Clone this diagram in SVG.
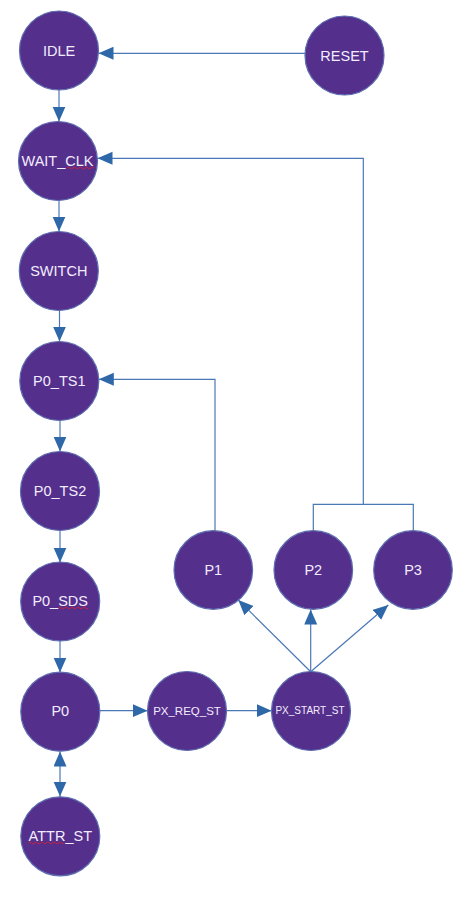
<svg xmlns="http://www.w3.org/2000/svg" width="474" height="914" viewBox="0 0 474 914">
<style>
.node circle{fill:#54308c;stroke:#5d6db0;stroke-width:1.2}
.node text{fill:#f3ecff;font-family:"Liberation Sans",Arial,sans-serif;font-size:14.5px;text-anchor:middle;dominant-baseline:central}
.node text.s{font-size:11.5px}
.node text.xs{font-size:10px}
.edge{fill:none;stroke:#4a78b4;stroke-width:1.2}
.squig{fill:none;stroke:#d0203a;stroke-width:0.9}
</style>
<defs>
<marker id="ah" markerUnits="userSpaceOnUse" markerWidth="16" markerHeight="14" refX="15" refY="6.5" orient="auto-start-reverse">
<path d="M0,0 L15,6.5 L0,13 z" fill="#2f68a9"/>
</marker>
</defs>
<rect width="474" height="914" fill="#ffffff"/>
<g id="connectors">
<line class="edge" x1="305" y1="53.3" x2="98.5" y2="53.3" marker-end="url(#ah)"/>
<line class="edge" x1="59" y1="90" x2="59" y2="121.5" marker-end="url(#ah)"/>
<line class="edge" x1="59" y1="200.5" x2="59" y2="231.5" marker-end="url(#ah)"/>
<line class="edge" x1="59.5" y1="310.5" x2="59.5" y2="341.5" marker-end="url(#ah)"/>
<line class="edge" x1="60" y1="420.5" x2="60" y2="451.5" marker-end="url(#ah)"/>
<line class="edge" x1="60" y1="530.5" x2="60" y2="562.5" marker-end="url(#ah)"/>
<line class="edge" x1="60" y1="641" x2="60" y2="672.5" marker-end="url(#ah)"/>
<line class="edge" x1="60" y1="751.5" x2="60" y2="796.5" marker-start="url(#ah)" marker-end="url(#ah)"/>
<polyline class="edge" points="215,530.7 215,379.3 98.8,379.3" marker-end="url(#ah)"/>
<polyline class="edge" points="313.3,530.7 313.3,504.3 413.3,504.3 413.3,530.7"/>
<polyline class="edge" points="363.3,504.3 363.3,158.3 97.5,158.3" marker-end="url(#ah)"/>
<line class="edge" x1="100" y1="710.7" x2="147.6" y2="710.7" marker-end="url(#ah)"/>
<line class="edge" x1="226.7" y1="710.7" x2="271.6" y2="710.7" marker-end="url(#ah)"/>
<line class="edge" x1="310.7" y1="671.7" x2="238.3" y2="600" marker-end="url(#ah)"/>
<line class="edge" x1="310.7" y1="671.7" x2="310.7" y2="609.5" marker-end="url(#ah)"/>
<line class="edge" x1="310.7" y1="671.7" x2="388.3" y2="605" marker-end="url(#ah)"/>
</g>
<g id="IDLE" class="node"><circle cx="59" cy="50.5" r="39.5"/><text x="59" y="50.5">IDLE</text></g>
<g id="RESET" class="node"><circle cx="344.5" cy="55.5" r="39.5"/><text x="344.5" y="55.5">RESET</text></g>
<g id="WAIT_CLK" class="node"><circle cx="58" cy="161" r="39.5"/><text x="57.5" y="161">WAIT_CLK</text></g>
<g id="SWITCH" class="node"><circle cx="58.8" cy="271" r="39.5"/><text x="58.8" y="270.5">SWITCH</text></g>
<g id="P0_TS1" class="node"><circle cx="59.3" cy="381" r="39.5"/><text x="59.3" y="380.5">P0_TS1</text></g>
<g id="P0_TS2" class="node"><circle cx="60" cy="491" r="39.5"/><text x="60" y="490.5">P0_TS2</text></g>
<g id="P0_SDS" class="node"><circle cx="60.2" cy="601.5" r="39.5"/><text x="60.2" y="601">P0_SDS</text></g>
<g id="P0" class="node"><circle cx="60.3" cy="711.7" r="39.5"/><text x="60.3" y="711">P0</text></g>
<g id="ATTR_ST" class="node"><circle cx="60.3" cy="836.3" r="39.5"/><text x="60.3" y="836">ATTR_ST</text></g>
<g id="PX_REQ_ST" class="node"><circle cx="187" cy="711" r="39.5"/><text class="s" x="187" y="710.5">PX_REQ_ST</text></g>
<g id="PX_START_ST" class="node"><circle cx="311" cy="711" r="39.5"/><text class="xs" x="310" y="710.5">PX_START_ST</text></g>
<g id="P1" class="node"><circle cx="213.3" cy="570" r="39.3"/><text x="213.3" y="569.5">P1</text></g>
<g id="P2" class="node"><circle cx="313.3" cy="570" r="39.3"/><text x="313.3" y="569.5">P2</text></g>
<g id="P3" class="node"><circle cx="413" cy="570" r="39.3"/><text x="413" y="569.5">P3</text></g>
<g id="spellmarks">
<path class="squig" d="M67,168 q1.5,-2 3,0 t3,0 t3,0 t3,0 t3,0 t3,0 t3,0 t3,0 t3,0"/>
<path class="squig" d="M58.5,608 q1.5,-2 3,0 t3,0 t3,0 t3,0 t3,0 t3,0 t3,0 t3,0 t3,0 t3,0"/>
<path class="squig" d="M28.5,843 q1.5,-2 3,0 t3,0 t3,0 t3,0 t3,0 t3,0 t3,0 t3,0 t3,0 t3,0 t3,0 t3,0"/>
</g>
</svg>
